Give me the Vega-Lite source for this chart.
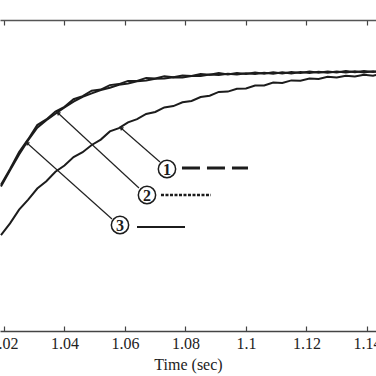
{
  "$schema": "https://vega.github.io/schema/vega-lite/v6.json",
  "width": 376,
  "height": 311,
  "autosize": {"type": "none"},
  "padding": {"left": 0, "top": 20, "right": 0, "bottom": 45},
  "background": "white",
  "config": {"view": {"stroke": null}, "font": "Liberation Serif"},
  "datasets": {
    "curves": [
      {"t": 1.019, "c1": 95.8, "c2": 144.5, "c3": 146.3},
      {"t": 1.022, "c1": 107.6, "c2": 160.8, "c3": 162.0},
      {"t": 1.025, "c1": 121.3, "c2": 176.6, "c3": 178.9},
      {"t": 1.028, "c1": 131.4, "c2": 190.9, "c3": 191.8},
      {"t": 1.031, "c1": 142.5, "c2": 203.4, "c3": 205.9},
      {"t": 1.034, "c1": 149.8, "c2": 210.8, "c3": 211.6},
      {"t": 1.037, "c1": 159.3, "c2": 217.3, "c3": 219.5},
      {"t": 1.040, "c1": 165.5, "c2": 223.6, "c3": 224.2},
      {"t": 1.043, "c1": 174.0, "c2": 229.4, "c3": 231.8},
      {"t": 1.046, "c1": 178.8, "c2": 234.2, "c3": 234.9},
      {"t": 1.049, "c1": 186.0, "c2": 237.6, "c3": 240.3},
      {"t": 1.052, "c1": 191.4, "c2": 241.0, "c3": 241.4},
      {"t": 1.055, "c1": 199.6, "c2": 243.2, "c3": 245.9},
      {"t": 1.058, "c1": 202.8, "c2": 246.3, "c3": 246.9},
      {"t": 1.061, "c1": 208.7, "c2": 247.6, "c3": 250.1},
      {"t": 1.064, "c1": 211.8, "c2": 249.7, "c3": 250.0},
      {"t": 1.067, "c1": 217.0, "c2": 250.6, "c3": 253.1},
      {"t": 1.070, "c1": 219.0, "c2": 252.2, "c3": 252.6},
      {"t": 1.073, "c1": 223.6, "c2": 252.4, "c3": 254.7},
      {"t": 1.076, "c1": 224.9, "c2": 253.8, "c3": 253.7},
      {"t": 1.079, "c1": 228.7, "c2": 253.6, "c3": 255.6},
      {"t": 1.082, "c1": 230.0, "c2": 255.1, "c3": 255.0},
      {"t": 1.085, "c1": 234.0, "c2": 254.9, "c3": 257.0},
      {"t": 1.088, "c1": 235.3, "c2": 256.4, "c3": 256.2},
      {"t": 1.091, "c1": 239.1, "c2": 256.0, "c3": 257.9},
      {"t": 1.094, "c1": 239.4, "c2": 257.3, "c3": 256.6},
      {"t": 1.097, "c1": 242.3, "c2": 256.5, "c3": 258.0},
      {"t": 1.100, "c1": 242.6, "c2": 257.8, "c3": 256.9},
      {"t": 1.103, "c1": 245.5, "c2": 256.9, "c3": 258.4},
      {"t": 1.106, "c1": 245.6, "c2": 258.3, "c3": 257.2},
      {"t": 1.109, "c1": 248.4, "c2": 257.3, "c3": 258.8},
      {"t": 1.112, "c1": 248.1, "c2": 258.8, "c3": 257.6},
      {"t": 1.115, "c1": 250.6, "c2": 257.6, "c3": 259.1},
      {"t": 1.118, "c1": 250.3, "c2": 259.0, "c3": 258.0},
      {"t": 1.121, "c1": 252.5, "c2": 257.9, "c3": 259.4},
      {"t": 1.124, "c1": 252.0, "c2": 259.3, "c3": 258.2},
      {"t": 1.127, "c1": 254.2, "c2": 258.2, "c3": 259.6},
      {"t": 1.130, "c1": 253.6, "c2": 259.6, "c3": 258.5},
      {"t": 1.133, "c1": 255.2, "c2": 258.4, "c3": 259.9},
      {"t": 1.136, "c1": 254.4, "c2": 259.7, "c3": 258.7},
      {"t": 1.139, "c1": 256.2, "c2": 258.6, "c3": 260.0},
      {"t": 1.142, "c1": 255.3, "c2": 259.8, "c3": 259.0},
      {"t": 1.143, "c1": 256.0, "c2": 259.2, "c3": 259.6}
    ],
    "arrows": [
      {"id": "1", "x1": 1.07157, "y1": 169, "x2": 1.05868, "y2": 203},
      {"id": "2", "x1": 1.06463, "y1": 143, "x2": 1.03785, "y2": 218},
      {"id": "3", "x1": 1.0557, "y1": 112, "x2": 1.0276, "y2": 188}
    ],
    "labels": [
      {"id": "1", "x": 1.07388, "y": 162},
      {"id": "2", "x": 1.06727, "y": 136},
      {"id": "3", "x": 1.05835, "y": 106}
    ],
    "samples": [
      {"id": "1", "x1": 1.07884, "x2": 1.10066, "y": 163},
      {"id": "2", "x1": 1.0719, "x2": 1.08843, "y": 136},
      {"id": "3", "x1": 1.06397, "x2": 1.07983, "y": 104}
    ]
  },
  "resolve": {"axis": {"x": "independent"}},
  "layer": [
    {
      "data": {"name": "curves"},
      "transform": [{"fold": ["c1", "c2", "c3"], "as": ["curve", "v"]}],
      "mark": {"type": "line", "clip": true, "color": "#1c1c1c", "strokeWidth": 2},
      "encoding": {
        "x": {
          "field": "t", "type": "quantitative",
          "scale": {"domain": [1.01868, 1.14298], "nice": false, "zero": false},
          "axis": {
            "orient": "bottom",
            "values": [1.02, 1.04, 1.06, 1.08, 1.1, 1.12, 1.14],
            "format": "~g",
            "grid": false,
            "domainColor": "#444",
            "domainWidth": 1.5,
            "tickColor": "#444",
            "tickSize": -5,
            "tickWidth": 1.2,
            "labelFont": "Liberation Serif",
            "labelFontSize": 16,
            "labelColor": "#222",
            "labelPadding": 9,
            "labelFlush": false,
            "labelOverlap": false,
            "title": "Time (sec)",
            "titleFont": "Liberation Serif",
            "titleFontSize": 16,
            "titleFontWeight": "normal",
            "titleColor": "#222",
            "titlePadding": 5
          }
        },
        "y": {"field": "v", "type": "quantitative", "scale": {"domain": [0, 311], "nice": false, "zero": false}, "axis": null},
        "detail": {"field": "curve"}
      }
    },
    {
      "data": {"name": "arrows"},
      "mark": {"type": "rule", "color": "#222", "strokeWidth": 1.2},
      "encoding": {
        "x": {
          "field": "x1", "type": "quantitative",
          "axis": {
            "orient": "top",
            "values": [1.02, 1.04, 1.06, 1.08, 1.1, 1.12, 1.14],
            "labels": false,
            "title": null,
            "grid": false,
            "domainColor": "#555",
            "domainWidth": 1.5,
            "tickColor": "#444",
            "tickSize": -5,
            "tickWidth": 1.2
          }
        },
        "x2": {"field": "x2"},
        "y": {"field": "y1", "type": "quantitative"},
        "y2": {"field": "y2"}
      }
    },
    {
      "data": {"name": "arrows"},
      "mark": {"type": "point", "shape": "triangle-up", "filled": true, "color": "#222", "size": 22, "angle": 312, "opacity": 1},
      "encoding": {
        "x": {"field": "x2", "type": "quantitative", "axis": null},
        "y": {"field": "y2", "type": "quantitative"}
      }
    },
    {
      "data": {"name": "samples"},
      "mark": {"type": "rule", "color": "#1c1c1c"},
      "encoding": {
        "x": {"field": "x1", "type": "quantitative", "axis": null},
        "x2": {"field": "x2"},
        "y": {"field": "y", "type": "quantitative"},
        "strokeDash": {"field": "id", "type": "nominal", "scale": {"domain": ["1", "2", "3"], "range": [[18, 7], [3, 1.5], [1, 0]]}, "legend": null},
        "strokeWidth": {"field": "id", "type": "nominal", "scale": {"domain": ["1", "2", "3"], "range": [3, 2, 3]}, "legend": null}
      }
    },
    {
      "data": {"name": "labels"},
      "mark": {"type": "point", "shape": "circle", "filled": false, "fill": "white", "fillOpacity": 1, "stroke": "#1c1c1c", "strokeWidth": 1.5, "size": 300, "opacity": 1},
      "encoding": {
        "x": {"field": "x", "type": "quantitative", "axis": null},
        "y": {"field": "y", "type": "quantitative"}
      }
    },
    {
      "data": {"name": "labels"},
      "mark": {"type": "text", "font": "Liberation Serif", "fontSize": 16, "fontWeight": "bold", "color": "#1c1c1c", "baseline": "middle", "align": "center", "dy": 1},
      "encoding": {
        "x": {"field": "x", "type": "quantitative", "axis": null},
        "y": {"field": "y", "type": "quantitative"},
        "text": {"field": "id"}
      }
    }
  ]
}
